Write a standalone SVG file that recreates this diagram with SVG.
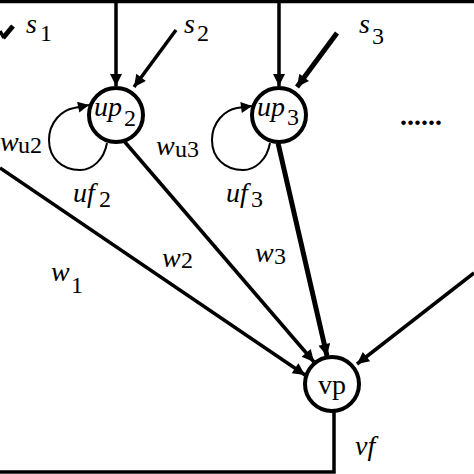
<svg xmlns="http://www.w3.org/2000/svg" width="474" height="474" viewBox="0 0 474 474">
<style>
.ln{stroke:#000;stroke-width:3.5;fill:none}
.thk{stroke:#000;stroke-width:5;fill:none}
.thin{stroke:#000;stroke-width:2;fill:none}
.nd{stroke:#000;stroke-width:4;fill:#fff}
.t{font-family:"Liberation Serif","Times New Roman",serif;font-size:28px;fill:#000}
.i{font-style:italic}
.sb{font-family:"Liberation Serif","Times New Roman",serif;font-size:24px;fill:#000}
</style>
<defs>
<marker id="ah" viewBox="0 0 10 10" refX="10" refY="5" markerWidth="16" markerHeight="12" markerUnits="userSpaceOnUse" orient="auto">
<path d="M0,0 L10,5 L0,10 z" fill="#000"/>
</marker>
<marker id="ahs" viewBox="0 0 10 10" refX="10" refY="5" markerWidth="14" markerHeight="11" markerUnits="userSpaceOnUse" orient="auto">
<path d="M0,0 L10,5 L0,10 z" fill="#000"/>
</marker>
</defs>
<g id="connectors">
<line class="ln" x1="0" y1="1.5" x2="474" y2="1.5"/>
<line class="ln" x1="116" y1="0" x2="116" y2="86" marker-end="url(#ah)"/>
<line class="ln" x1="279" y1="0" x2="279" y2="86" marker-end="url(#ah)"/>
<line class="ln" x1="176" y1="30" x2="134" y2="87" marker-end="url(#ah)"/>
<line class="thk" x1="337" y1="33" x2="297" y2="87" marker-end="url(#ah)"/>
<polyline class="ln" points="0,31 4,38"/>
<line class="thk" x1="13" y1="26" x2="3" y2="38"/>
<path class="thin" d="M107,143 C104,160 92,170 80,170 C62,170 49,158 49,140 C49,122 62,110 74,108 L89,105" marker-end="url(#ahs)"/>
<path class="thin" d="M270,143 C267,160 255,170 243,170 C225,170 212,158 212,140 C212,122 225,110 237,108 L252,106" marker-end="url(#ahs)"/>
<line class="ln" x1="0" y1="168" x2="305" y2="375" marker-end="url(#ah)"/>
<line class="ln" x1="124" y1="141" x2="314" y2="362" marker-end="url(#ah)"/>
<line class="thk" x1="278" y1="143" x2="327" y2="356" marker-end="url(#ah)"/>
<line class="ln" x1="474" y1="273" x2="357" y2="364" marker-end="url(#ah)"/>
<polyline class="ln" points="334,412 334,472 0,472"/>
</g>
<g id="up2">
<circle class="nd" cx="116" cy="115" r="27"/>
<text class="t i" x="94" y="116">up</text><text class="sb" x="124" y="126">2</text>
</g>
<g id="up3">
<circle class="nd" cx="279" cy="115" r="27"/>
<text class="t i" x="257" y="116">up</text><text class="sb" x="287" y="125">3</text>
</g>
<g id="vp">
<circle class="nd" cx="332" cy="384" r="27"/>
<text class="t" x="332" y="394" text-anchor="middle">vp</text>
</g>
<g id="labels">
<text class="t i" x="26" y="33">s</text><text class="sb" x="40" y="41">1</text>
<text class="t i" x="184" y="33">s</text><text class="sb" x="197" y="41">2</text>
<text class="t i" x="359" y="33">s</text><text class="sb" x="372" y="44">3</text>
<text class="t i" x="0" y="151">w</text><text class="sb" x="18" y="153">u2</text>
<text class="t i" x="156" y="155">w</text><text class="sb" x="175" y="157">u3</text>
<text class="t i" x="73" y="202">uf</text><text class="sb" x="99" y="207">2</text>
<text class="t i" x="226" y="202">uf</text><text class="sb" x="251" y="207">3</text>
<text class="t i" x="51" y="281">w</text><text class="sb" x="71" y="293">1</text>
<text class="t i" x="162" y="267">w</text><text class="sb" x="181" y="268">2</text>
<text class="t i" x="255" y="262">w</text><text class="sb" x="274" y="264">3</text>
<text class="t i" x="355" y="455">vf</text>
<text class="t" x="400" y="125" font-weight="bold">......</text>
</g>
</svg>
